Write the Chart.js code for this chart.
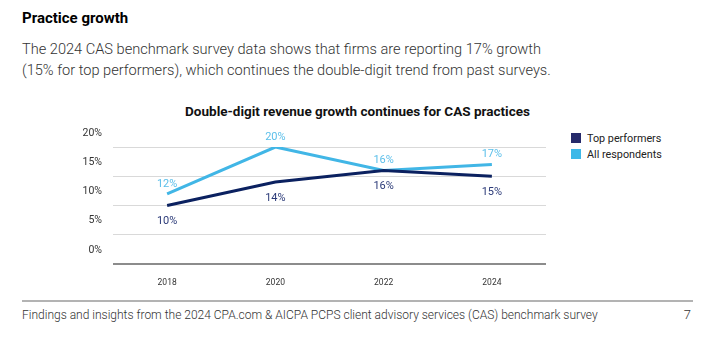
<!DOCTYPE html>
<html>
<head>
<meta charset="utf-8">
<script src="https://cdn.jsdelivr.net/npm/chart.js@4.4.1/dist/chart.umd.min.js"></script>
<style>
    body { margin: 0; width: 715px; height: 339px; background: #fff; font-family: Roboto, sans-serif; color: #222; position: relative; overflow: hidden; }
    #heading { position: absolute; left: 22px; top: 9px; font-size: 15px; font-weight: bold; color: #000; }
    #intro { position: absolute; left: 22px; top: 39px; font-size: 14.6px; line-height: 21px; color: #333; font-weight: 300; }
    #chartTitle { position: absolute; left: 0; width: 715px; top: 103px; text-align: center; font-size: 13.5px; font-weight: bold; color: #111; }
    #chartBox { position: absolute; left: 60px; top: 115px; width: 500px; height: 175px; }
    #legend { position: absolute; left: 571px; top: 131px; font-size: 10.8px; color: #222; }
    #legend div { height: 16px; line-height: 16px; white-space: nowrap; }
    #legend span { display: inline-block; width: 10px; height: 10px; margin-right: 6px; vertical-align: -1px; }
    #footerLine { position: absolute; left: 22px; top: 300px; width: 671px; height: 2px; background: #b3b3b3; }
    #footer { position: absolute; left: 22px; top: 308px; font-size: 12px; color: #333; font-weight: 300; }
    #page { position: absolute; right: 24px; top: 307px; font-size: 13px; color: #333; font-weight: 300; }
</style>
</head>
<body>
<div id="heading">Practice growth</div>
<div id="intro">The 2024 CAS benchmark survey data shows that firms are reporting 17% growth<br>(15% for top performers), which continues the double-digit trend from past surveys.</div>
<div id="chartTitle">Double-digit revenue growth continues for CAS practices</div>
<div id="chartBox"><canvas id="lineChart"></canvas></div>
<div id="legend">
    <div><span style="background:#262a6b"></span>Top performers</div>
    <div><span style="background:#3db8e8"></span>All respondents</div>
</div>
<div id="footerLine"></div>
<div id="footer">Findings and insights from the 2024 CPA.com &amp; AICPA PCPS client advisory services (CAS) benchmark survey</div>
<div id="page">7</div>

<script>
    var years = ["2018", "2020", "2022", "2024"];
    var topPerformers = [10, 14, 16, 15];
    var allRespondents = [12, 20, 16, 17];
    var yTicks = [0, 5, 10, 15, 20];

    // ghi nhan % tren moi diem
    var pointLabels = {
        id: 'pointLabels',
        afterDatasetsDraw: function (chart) {
            var ctx = chart.ctx;
            ctx.save();
            ctx.font = '11px Roboto';
            ctx.textAlign = 'center';
            ctx.textBaseline = 'middle';
            chart.data.datasets.forEach(function (ds, i) {
                var meta = chart.getDatasetMeta(i);
                ctx.fillStyle = ds.labelColor;
                for (var j = 0; j < meta.data.length; j++) {
                    var p = meta.data[j];
                    ctx.fillText(ds.data[j] + '%', p.x, p.y + ds.labelShift);
                }
            });
            ctx.restore();
        }
    };

    var ctxL = document.getElementById("lineChart").getContext('2d');
    new Chart(ctxL, {
        type: 'line',
        data: {
            labels: years,
            datasets: [{
                label: "Top performers",
                data: topPerformers,
                borderColor: "#0b2160",
                borderWidth: 3,
                pointRadius: 0,
                labelColor: "#2b3a78",
                labelShift: 16
            }, {
                label: "All respondents",
                data: allRespondents,
                borderColor: "#41b6e6",
                borderWidth: 3,
                pointRadius: 0,
                labelColor: "#5bbfea",
                labelShift: -10
            }]
        },
        options: {
            responsive: true,
            maintainAspectRatio: false,
            animation: false,
            layout: { padding: { top: 32, right: 14, left: 0, bottom: 0 } },
            plugins: {
                legend: { display: false },
                tooltip: { enabled: false }
            },
            scales: {
                x: {
                    offset: true,
                    grid: { display: false },
                    border: { display: false },
                    ticks: { padding: 6, color: '#333', font: { size: 8.5, family: 'Roboto' } },
                    afterFit: function (s) { s.height = 26; }
                },
                y: {
                    min: 0,
                    max: 20,
                    afterBuildTicks: function (s) {
                        s.ticks = yTicks.map(function (v) { return { value: v }; });
                    },
                    afterFit: function (s) { s.width = 53; },
                    border: { display: false },
                    grid: {
                        drawTicks: false,
                        color: function (c) { return c.tick && c.tick.value === 0 ? '#8c8c8c' : '#d9d9d9'; },
                        lineWidth: function (c) { return c.tick && c.tick.value === 0 ? 2 : 1; }
                    },
                    ticks: {
                        padding: 11,
                        labelOffset: -14,
                        color: '#333',
                        font: { size: 10.5, family: 'Roboto' },
                        callback: function (v) { return v + '%'; }
                    }
                }
            }
        },
        plugins: [pointLabels]
    });
</script>
</body>
</html>
